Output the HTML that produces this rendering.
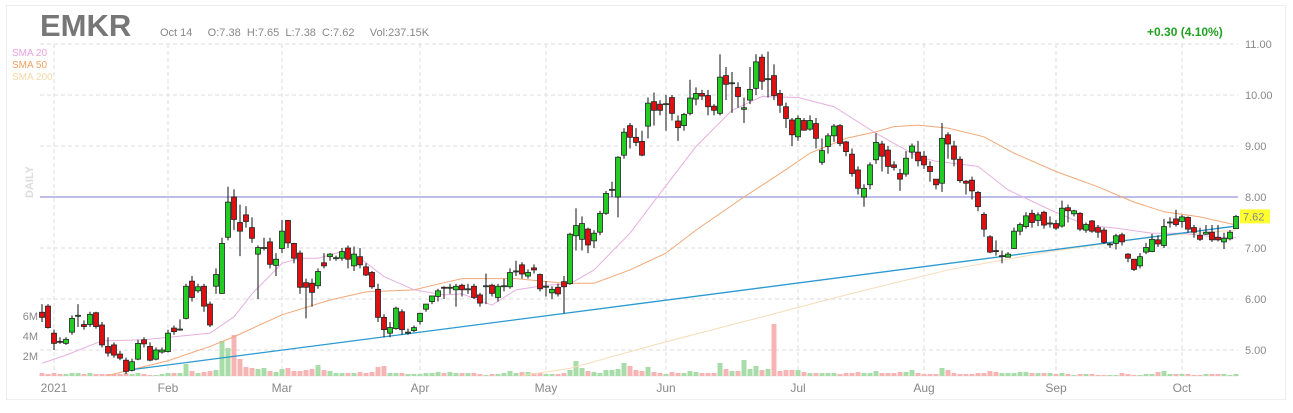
<!DOCTYPE html>
<html><head><meta charset="utf-8"><style>
body{margin:0;background:#fff;}
svg{display:block;font-family:"Liberation Sans",sans-serif;}
</style></head><body>
<svg id="chart" width="1293" height="413" xmlns="http://www.w3.org/2000/svg">
<rect x="6.5" y="5.5" width="1279" height="394" fill="#fff" stroke="#eee"/>
<text x="40" y="36" font-size="31" font-weight="bold" fill="#777">EMKR</text>
<text x="160" y="36" font-size="11" fill="#888" xml:space="preserve">Oct 14     O:7.38  H:7.65  L:7.38  C:7.62     Vol:237.15K</text>
<text x="1147" y="36" font-size="12" font-weight="bold" fill="#22a022">+0.30 (4.10%)</text>
<text x="12" y="56" font-size="10" fill="#e8a0e0">SMA 20</text>
<text x="12" y="68" font-size="10" fill="#f0a060">SMA 50</text>
<text x="12" y="80" font-size="10" fill="#f5d8a8">SMA 200</text>
<text transform="translate(33,198) rotate(-90)" font-size="11" font-weight="bold" fill="#ddd">DAILY</text>
<g id="grid"></g><g id="vol"></g><g id="lines"></g><g id="candles"></g><g id="axes"></g>
</svg>
<script>
const opens=[5.74,5.86,5.33,5.17,5.13,5.35,5.66,5.50,5.50,5.73,5.49,5.07,5.10,4.92,4.80,4.60,4.82,5.20,5.07,4.82,4.96,4.97,5.43,5.41,5.62,6.35,6.16,6.25,5.90,6.25,6.11,7.21,8.00,7.50,7.65,7.40,6.88,7.00,7.12,6.66,6.99,7.54,7.09,6.90,6.32,6.31,6.26,6.71,6.83,6.80,6.80,7.00,6.65,6.83,6.63,6.52,6.19,5.64,5.33,5.42,5.75,5.34,5.38,5.56,5.80,5.95,6.05,6.23,6.22,6.18,6.27,6.19,6.25,6.08,6.25,6.27,6.03,6.25,6.24,6.54,6.67,6.45,6.61,6.48,6.24,6.12,6.23,6.34,6.30,7.24,7.17,7.37,7.14,7.31,7.68,8.14,8.00,8.82,9.40,9.17,9.09,9.39,9.87,9.82,9.82,9.95,9.49,9.40,9.64,9.92,10.03,9.99,9.78,9.64,10.38,10.23,10.15,9.72,9.90,10.13,10.74,10.31,10.38,10.03,9.77,9.51,9.18,9.50,9.33,9.44,8.68,8.99,9.20,9.40,9.08,8.84,8.53,8.00,8.24,8.73,9.04,8.92,8.63,8.46,8.45,8.88,8.88,8.80,8.60,8.35,8.27,9.22,9.00,8.74,8.31,8.33,8.09,7.66,7.22,6.95,6.84,6.82,6.99,7.33,7.42,7.68,7.54,7.70,7.48,7.48,7.43,7.79,7.67,7.68,7.35,7.53,7.40,7.35,7.07,7.09,7.26,6.88,6.78,6.65,6.92,6.93,7.16,7.05,7.50,7.57,7.52,7.60,7.40,7.25,7.27,7.31,7.21,7.12,7.18,7.38];
const closes=[5.64,5.44,5.13,5.16,5.21,5.62,5.68,5.46,5.70,5.46,5.10,4.94,4.90,4.84,4.58,4.77,5.13,5.12,4.80,5.00,5.00,5.33,5.36,5.41,6.25,6.03,6.24,5.86,5.49,6.48,7.09,7.90,7.56,7.33,7.52,7.19,7.01,7.01,6.68,6.78,7.33,7.10,6.80,6.23,6.23,6.13,6.54,6.65,6.88,6.81,6.93,6.78,6.88,6.67,6.47,6.24,5.64,5.40,5.44,5.82,5.40,5.35,5.44,5.72,5.90,6.06,6.16,6.22,6.23,6.25,6.18,6.20,6.03,5.92,6.26,6.11,6.25,6.26,6.52,6.55,6.49,6.52,6.57,6.20,6.25,6.19,6.10,6.24,7.27,7.44,7.48,7.06,7.29,7.68,8.07,8.15,8.78,9.27,9.17,9.07,8.82,9.84,9.70,9.70,9.83,9.64,9.36,9.62,9.94,10.03,9.98,9.77,9.70,10.35,10.21,10.24,9.97,9.75,10.11,10.65,10.27,10.32,9.99,9.80,9.54,9.22,9.54,9.31,9.50,9.15,8.91,9.20,9.39,9.05,8.89,8.46,8.17,8.17,8.63,9.07,8.80,8.60,8.58,8.35,8.76,9.00,8.71,8.63,8.50,8.24,9.15,9.04,8.74,8.32,8.27,8.12,7.81,7.37,6.92,6.94,6.85,6.88,7.33,7.46,7.63,7.50,7.65,7.45,7.49,7.39,7.78,7.73,7.73,7.37,7.46,7.33,7.31,7.11,7.08,7.24,7.12,6.80,6.58,6.83,7.01,7.17,7.08,7.42,7.51,7.46,7.61,7.37,7.31,7.17,7.31,7.16,7.16,7.19,7.31,7.62];
const highs=[5.9,5.9,5.4,5.25,5.25,5.68,5.9,5.58,5.75,5.75,5.55,5.25,5.15,4.98,4.85,4.83,5.2,5.25,5.15,5.05,5.05,5.4,5.48,5.6,6.3,6.45,6.3,6.3,5.95,6.6,7.2,8.2,8.15,7.85,7.82,7.6,7.05,7.2,7.2,6.9,7.55,7.55,7.1,6.95,6.4,6.4,6.6,6.9,6.9,6.85,7.0,7.05,7.03,7.0,6.7,6.55,6.3,5.7,5.55,5.85,5.8,5.42,5.48,5.68,5.88,6.0,6.2,6.25,6.3,6.3,6.3,6.3,6.3,6.12,6.5,6.3,6.3,6.4,6.6,6.75,6.72,6.58,6.68,6.5,6.35,6.25,6.3,6.45,7.3,7.78,7.62,7.4,7.35,7.73,8.12,8.3,8.8,9.35,9.45,9.35,9.3,9.95,10.05,9.9,10.0,10.0,9.6,9.65,10.3,10.15,10.1,10.1,9.82,10.8,10.55,10.45,10.25,9.95,10.55,10.8,10.8,10.85,10.6,10.1,9.85,9.55,9.6,9.55,9.6,9.55,9.15,9.25,9.43,9.43,9.1,8.95,8.6,8.25,8.68,9.25,9.1,9.0,8.7,8.55,8.9,9.05,9.1,8.9,8.7,8.35,9.45,9.27,9.1,8.8,8.33,8.4,8.12,7.7,7.25,7.15,6.95,6.92,7.4,7.5,7.7,7.75,7.7,7.73,7.62,7.55,7.93,7.85,7.75,7.7,7.5,7.55,7.45,7.4,7.1,7.28,7.3,6.9,6.65,6.9,7.1,7.28,7.25,7.57,7.6,7.75,7.65,7.62,7.45,7.4,7.45,7.45,7.45,7.3,7.35,7.65];
const lows=[5.55,5.42,5.0,5.12,5.1,5.3,5.45,5.4,5.45,5.42,5.05,4.87,4.85,4.8,4.53,4.58,4.8,5.05,4.78,4.8,4.93,4.95,5.3,5.38,5.6,5.95,6.12,5.75,5.45,6.1,6.1,7.15,7.35,6.84,7.4,7.1,6.0,6.95,6.6,6.45,6.9,7.0,6.7,6.1,5.62,5.85,6.2,6.6,6.75,6.75,6.75,6.6,6.55,6.6,6.45,6.2,5.55,5.25,5.25,5.4,5.3,5.3,5.35,5.5,5.75,5.9,5.95,6.0,6.1,5.85,6.05,6.1,6.0,5.85,5.9,6.05,5.95,6.15,6.2,6.45,6.4,6.4,6.5,6.15,6.05,6.0,6.05,5.72,6.28,6.95,6.95,6.9,7.0,7.25,7.65,8.0,7.6,8.75,8.95,9.0,8.8,9.15,9.4,9.6,9.3,9.5,9.1,9.3,9.6,9.8,9.9,9.6,9.6,9.6,9.9,9.65,9.75,9.45,9.82,10.0,10.1,9.95,9.9,9.65,9.35,9.0,9.1,9.3,9.3,8.95,8.63,8.85,9.08,9.0,8.8,8.4,8.05,7.81,8.15,8.65,8.5,8.45,8.52,8.12,8.4,8.75,8.6,8.55,8.3,8.15,8.1,8.75,8.6,8.28,8.05,7.95,7.72,7.22,6.9,6.85,6.7,6.85,6.98,7.25,7.38,7.4,7.43,7.38,7.4,7.35,7.4,7.5,7.62,7.33,7.3,7.3,7.2,7.08,7.0,6.97,7.05,6.72,6.55,6.6,6.88,6.92,7.02,7.0,7.4,7.42,7.4,7.3,7.2,7.14,7.26,7.12,7.13,6.98,7.15,7.38];
const volumes=[.3,.2,.3,.2,.2,.3,.3,.2,.3,.2,.2,.2,.2,.2,.3,.2,.3,.2,.1,.1,.2,.3,.3,.3,1.2,.5,.3,.4,.5,.6,3.5,2.8,4.1,1.7,.9,.8,.7,.8,.5,.4,.7,.8,.5,.5,.6,.7,1.1,.6,.5,.3,.3,.3,.3,.4,.3,.4,.9,1.0,.3,.3,.3,.2,.2,.2,.3,.3,.4,.3,.4,.3,.3,.3,.3,.2,.1,.2,.2,.3,.5,.3,.4,.4,.3,.3,.2,.2,.2,.3,.6,1.5,.8,.5,.4,.3,.6,.6,.7,1.3,1.0,.6,.5,.9,.4,.3,.2,.4,.3,.3,.5,.4,.3,.3,.3,1.3,.7,.5,.5,1.6,.7,1.0,.6,.7,5.2,.5,.6,.6,.6,.4,.3,.3,.3,.3,.3,.2,.3,.3,.4,.3,.3,.5,.3,.3,.3,.4,.4,.6,.3,.2,.2,.2,.8,.6,.3,.2,.2,.2,.3,.3,.5,.4,.3,.3,.3,.4,.4,.3,.3,.3,.3,.2,.3,.2,.1,.2,.2,.2,.1,.1,.1,.1,.3,.2,.1,.1,.2,.2,.4,.5,.2,.2,.2,.2,.1,.1,.2,.2,.2,.2,.1,.2];
const sma20Idx=[0,4,10,17,22,28,32,35,40,43,46,50,53,57,62,67,70,75,79,84,88,92,98,103,109,115,120,126,132,139,146,149,156,161,168,174,179,185,190,196,199];
const sma20Val=[4.74,4.9,5.18,5.2,5.26,5.33,5.65,6.1,6.7,6.8,6.8,6.93,6.8,6.44,6.18,6.08,6.1,5.88,6.18,6.27,6.3,6.57,7.29,8.07,8.99,9.7,9.97,9.95,9.77,9.25,8.79,8.7,8.6,8.14,7.75,7.45,7.39,7.29,7.29,7.21,7.2];
const sma50Idx=[11,21,28,32,40,48,54,62,67,70,79,87,92,98,104,109,117,123,128,134,139,142,146,151,157,162,169,176,182,187,193,199];
const sma50Val=[4.5,4.79,5.07,5.26,5.69,5.98,6.14,6.18,6.32,6.4,6.4,6.31,6.31,6.57,6.9,7.35,8.0,8.46,8.86,9.15,9.28,9.38,9.41,9.35,9.18,8.86,8.5,8.2,7.9,7.71,7.61,7.45];
const sma200Idx=[80,88,103,120,135,151,168,185,199];
const sma200Val=[4.5,4.64,5.13,5.65,6.11,6.57,6.93,7.22,7.35];
const trendIdx=[14,199];
const trendVal=[4.6,7.43];
const priceTicks=[11,10,9,8,7,6,5];
const resistanceLevel=8.0;
const monthIdx=[2,21,40,63,84,104,126,147,169,190];
const monthLabels=["2021","Feb","Mar","Apr","May","Jun","Jul","Aug","Sep","Oct"];
const volTicks=[6,4,2];
const volTickLabels=["6M","4M","2M"];
const lastPrice=7.62;

const NS="http://www.w3.org/2000/svg";
const xOf=i=>42+6*i;
const yOf=p=>44+(11-p)*51;
const vOf=v=>376-v*10;
function mk(tag,attrs,parent,txt){const e=document.createElementNS(NS,tag);for(const k in attrs)e.setAttribute(k,attrs[k]);if(txt!==undefined)e.textContent=txt;document.getElementById(parent).appendChild(e);return e;}

priceTicks.forEach(p=>{
  const l=mk('line',{x1:40,x2:1238,y1:yOf(p),y2:yOf(p),stroke:'#ddd','stroke-dasharray':'4,3'},'grid');
  
  
  const t=mk('text',{x:1245,y:yOf(p)+4,'font-size':11,fill:'#888'},'axes',p.toFixed(2));
  
  
});
monthIdx.forEach((m,k)=>{
  const l=mk('line',{x1:xOf(m),x2:xOf(m),y1:44,y2:376,stroke:'#ddd','stroke-dasharray':'4,3'},'grid');
  
  
  const t=mk('text',{x:xOf(m),y:392,'font-size':12,fill:'#888','text-anchor':'middle'},'axes',monthLabels[k]);
  
  
});
volTicks.forEach((v,k)=>{
  const t=mk('text',{x:38,y:vOf(v)+4,'font-size':11,fill:'#888','text-anchor':'end'},'axes',volTickLabels[k]);
  
  
});
const bl=mk('line',{x1:40,x2:1238,y1:376,y2:376,stroke:'#eee'},'grid');



volumes.forEach((v,i)=>{
  const up=closes[i]>=opens[i];
  const r=mk('rect',{x:xOf(i)-2.5,y:vOf(v),width:5,height:v*10,fill:up?'#a8dca8':'#f6b4b4'},'vol');
  
  
});

const rl=mk('line',{x1:40,x2:1238,y1:yOf(resistanceLevel),y2:yOf(resistanceLevel),stroke:'#a9a6e0','stroke-width':1.5},'lines');


function poly(idx,val,color,name,w){
  const pts=idx.map((d,k)=>xOf(d)+','+yOf(val[k])).join(' ');
  const p=mk('polyline',{points:pts,fill:'none',stroke:color,'stroke-width':w},'lines');
  
  
}
poly(sma200Idx,sma200Val,'#f6dcb8','sma200-line',1);
poly(sma50Idx,sma50Val,'#f0a878','sma50-line',1);
poly(sma20Idx,sma20Val,'#e6b0e0','sma20-line',1);
poly(trendIdx,trendVal,'#2a9ad0','trend-line',1.3);

opens.forEach((o,i)=>{
  const c=closes[i],up=c>=o,x=xOf(i);
  const w=mk('line',{x1:x,x2:x,y1:yOf(highs[i]),y2:yOf(lows[i]),stroke:'#111','stroke-width':1},'candles');
  
  
  const top=yOf(Math.max(o,c)),h=Math.max(1,Math.abs(yOf(o)-yOf(c)));
  const b=mk('rect',{x:x-2.5,y:top,width:5,height:h,fill:up?'#22cc22':'#dd1111',stroke:'#222','stroke-width':0.8},'candles');
  
  
});

const lb=mk('rect',{x:1240,y:yOf(lastPrice)-7,width:30,height:14,fill:'#ffff30'},'axes');


const lt=mk('text',{x:1243,y:yOf(lastPrice)+4,'font-size':11,fill:'#888'},'axes',lastPrice.toFixed(2));


</script>
</body></html>
